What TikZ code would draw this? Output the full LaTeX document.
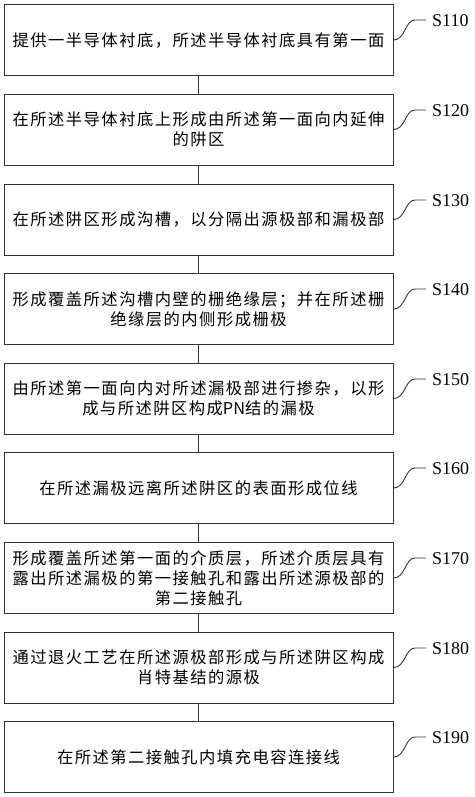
\documentclass[tikz,border=0pt]{standalone}
\usepackage{fontspec}
\newfontfamily\cjk[LetterSpace=9]{Noto Sans CJK SC}
\newfontfamily\cjktight{Noto Sans CJK SC}
\newfontfamily\lab{Liberation Serif}
\usetikzlibrary{calc}
\begin{document}
\begin{tikzpicture}[x=1pt,y=-1pt,
  stepbox/.style={draw=black!80,line width=0.9pt,minimum width=389pt,minimum height=71pt,inner sep=0pt,align=center,font=\cjk\fontsize{16.3}{20}\selectfont},
  lbl/.style={anchor=west,inner sep=0pt,font=\lab\fontsize{18}{20}\selectfont},
  link/.style={draw=black!80,line width=0.9pt}]
\useasboundingbox (0,0) rectangle (474,797);
\node[stepbox] (b1) at (198.5,40) {提供一半导体衬底，所述半导体衬底具有第一面};
\node[stepbox] (b2) at (198.5,129.5) {在所述半导体衬底上形成由所述第一面向内延伸\\的阱区};
\node[stepbox] (b3) at (198.5,219.5) {在所述阱区形成沟槽，以分隔出源极部和漏极部};
\node[stepbox] (b4) at (198.5,309) {形成覆盖所述沟槽内壁的栅绝缘层；并在所述栅\\绝缘层的内侧形成栅极};
\node[stepbox] (b5) at (198.5,398.5) {由所述第一面向内对所述漏极部进行掺杂，以形\\成与所述阱区构成{\cjktight PN}结的漏极};
\node[stepbox] (b6) at (198.5,488) {在所述漏极远离所述阱区的表面形成位线};
\node[stepbox] (b7) at (198.5,578) {形成覆盖所述第一面的介质层，所述介质层具有\\露出所述漏极的第一接触孔和露出所述源极部的\\第二接触孔};
\node[stepbox] (b8) at (198.5,667.5) {通过退火工艺在所述源极部形成与所述阱区构成\\肖特基结的源极};
\node[stepbox] (b9) at (198.5,757) {在所述第二接触孔内填充电容连接线};
\foreach \i/\y/\t in {1/21/S110,2/111/S120,3/201/S130,4/290/S140,5/380/S150,6/469/S160,7/559/S170,8/649/S180,9/738/S190}{
  \node[lbl] (l\i) at (432,\y) {\t};
  \draw[link] ($(b\i.north east)+(0,36)$) .. controls +(12,0) and +(-10,0) .. ($(l\i.west)+(-17,-1)$) -- ($(l\i.west)+(-6,-1)$);
}
\foreach \a/\b in {1/2,2/3,3/4,4/5,5/6,6/7,7/8,8/9}{
  \draw[link] (b\a.south) -- (b\b.north);
}
\end{tikzpicture}
\end{document}
